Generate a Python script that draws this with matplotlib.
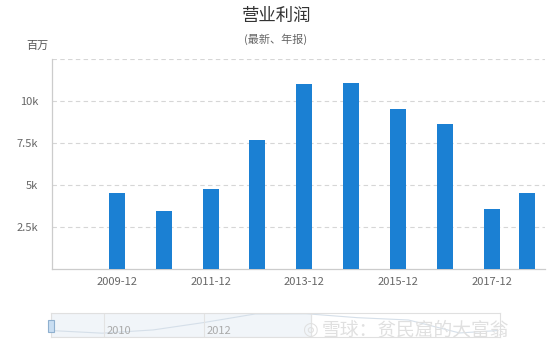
import matplotlib
matplotlib.use("Agg")
import matplotlib.pyplot as plt
from matplotlib.patches import Rectangle

plt.rcParams['font.family'] = ['Noto Sans CJK SC', 'DejaVu Sans']

# ---- data ----
periods = ["2009-12", "2010-12", "2011-12", "2012-12", "2013-12", "2014-12",
           "2015-12", "2016-12", "2017-12", "2018-09"]
profit = [4500, 3470, 4740, 7660, 11000, 11070, 9540, 8630, 3550, 4500]
xtick_labels = ["2009-12", "2011-12", "2013-12", "2015-12", "2017-12"]
ytick_values = [2500, 5000, 7500, 10000]
ytick_labels = ["2.5k", "5k", "7.5k", "10k"]
nav_labels = ["2010", "2012"]
title = "营业利润"
subtitle = "(最新、年报)"
unit = "百万"
watermark = "雪球：贫民窟的大富翁"


def to_month(s):
    y, m = s.split("-")
    return int(y) * 12 + int(m)


xs = [to_month(p) for p in periods]

W, H = 554, 351
fig = plt.figure(figsize=(W / 100, H / 100), dpi=100)
fig.patch.set_facecolor("white")


def ax_rect(x0, y0, x1, y1):
    return [x0 / W, 1 - y1 / H, (x1 - x0) / W, (y1 - y0) / H]


ax = fig.add_axes(ax_rect(52, 59, 545, 269))
ax.bar(xs, profit, width=4.1, color="#1b80d3", zorder=3)
ax.set_xlim(to_month("2009-12") - 16.6, to_month("2009-12") + 109.6)
ax.set_ylim(0, 12500)
ax.set_yticks(ytick_values + [12500])
ax.set_yticklabels(ytick_labels + [""])
ax.set_xticks([to_month(t) for t in xtick_labels])
ax.set_xticklabels(xtick_labels)
ax.grid(axis="y", color="#d6d6d6", linestyle=(0, (4, 3)), linewidth=0.8, zorder=0)
for s in ["top", "right"]:
    ax.spines[s].set_visible(False)
ax.spines["left"].set_color("#cccccc")
ax.spines["bottom"].set_color("#cccccc")
ax.spines["left"].set_linewidth(0.9)
ax.spines["bottom"].set_linewidth(0.9)
ax.tick_params(axis="y", length=0, pad=10, labelsize=8, labelcolor="#666666")
ax.tick_params(axis="x", length=0, pad=6, labelsize=8, labelcolor="#666666")

fig.text(277 / W, 1 - 16 / H, title, ha="center", va="center", fontsize=12.5, color="#333333")
fig.text(276 / W, 1 - 39 / H, subtitle, ha="center", va="center", fontsize=8, color="#666666")
fig.text(37 / W, 1 - 46 / H, unit, ha="center", va="center", fontsize=8, color="#555555")

# ---- navigator ----
nav = fig.add_axes(ax_rect(51, 313, 500, 337))
nav.set_facecolor("white")
x0 = to_month("2009-12")
nav.set_xlim(x0, x0 + 105.5)
nav.set_ylim(min(profit) - 1500, max(profit) + 300)
nav.axvspan(x0, x0 + 61, color="#eef3f8", alpha=0.8, zorder=0)
nav.plot(xs, profit, color="#d5dfe9", linewidth=0.8, zorder=1)
for yr, lab in zip([x0 + 12.5, x0 + 36], nav_labels):
    nav.axvline(yr, color="#e3e3e3", linewidth=0.8, zorder=1)
    nav.text(yr + 0.6, min(profit) + 800, lab,
             fontsize=8, color="#aaaaaa", va="center", ha="left")
nav.axvline(x0 + 61, color="#e3e3e3", linewidth=0.8, zorder=1)
nav.set_xticks([])
nav.set_yticks([])
for s in nav.spines.values():
    s.set_color("#e0e0e0")
    s.set_linewidth(0.8)
yl = nav.get_ylim()
nav.add_patch(Rectangle((x0 - 0.6, yl[0] + 0.2 * (yl[1] - yl[0])),
                        1.4, 0.5 * (yl[1] - yl[0]),
                        facecolor="#c9def2", edgecolor="#8fb0cf", linewidth=0.8,
                        clip_on=False, zorder=5))

fig.text(322 / W, 1 - 330 / H, watermark, ha="left", va="center", fontsize=13.5,
         color="#e0e0e0")
fig.text(310 / W, 1 - 330 / H, "◎", ha="center", va="center", fontsize=13,
         color="#e0e0e0", family=["DejaVu Sans"])

fig.savefig("out.png", dpi=100, facecolor="white")
